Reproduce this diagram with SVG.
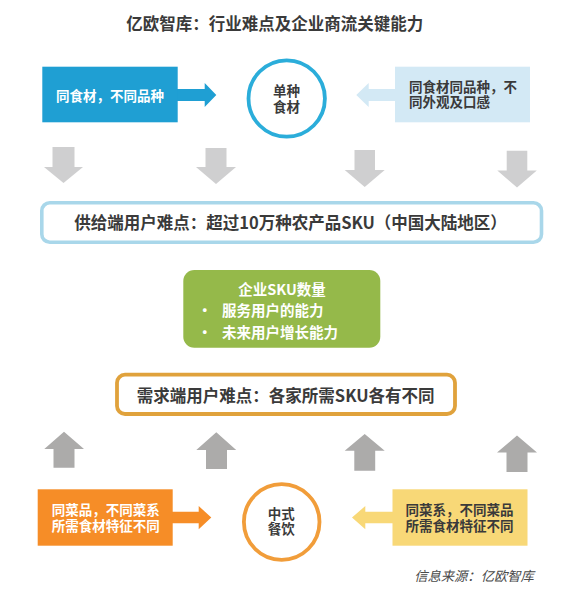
<svg xmlns="http://www.w3.org/2000/svg" width="577" height="596" viewBox="0 0 577 596">
<style>
text{font-family:"Noto Sans CJK SC","Microsoft YaHei",sans-serif;font-weight:bold;}
.dark{fill:#3a3a3a;}
.white{fill:#ffffff;}
.t14{font-size:13.5px;}
.t16{font-size:16.5px;}
.mid{text-anchor:middle;}
.downA{fill:#cfcfd0;}
.upA{fill:#acabaa;}
</style>
<rect x="0" y="0" width="577" height="596" fill="#ffffff"/>

<text class="dark t16 mid" x="274.7" y="29.5" id="title">亿欧智库：行业难点及企业商流关键能力</text>

<g id="connectors">
  <!-- top side arrows -->
  <polygon fill="#1f9fd3" points="177,89 204.7,89 204.7,83 216.3,95 204.7,107 204.7,101 177,101"/>
  <polygon fill="#d3e9f5" points="396,89 368.7,89 368.7,83 356.3,95 368.7,107 368.7,101 396,101"/>
  <!-- down arrows -->
  <polygon class="downA" points="52.5,147 74.5,147 74.5,167 83,167 63.5,183 44,167 52.5,167"/>
  <polygon class="downA" points="205.5,148 226.5,148 226.5,167 236,167 216,184 196,167 205.5,167"/>
  <polygon class="downA" points="354.5,150 375,150 375,170 384.7,170 364.7,187 344.7,170 354.5,170"/>
  <polygon class="downA" points="506.7,150.7 527.3,150.7 527.3,170.5 536.8,170.5 517,187.5 497.3,170.5 506.7,170.5"/>
  <!-- up arrows -->
  <polygon class="upA" points="53.5,467.7 74.5,467.7 74.5,449 84,449 64,431.7 44.3,449 53.5,449"/>
  <polygon class="upA" points="206,469 227,469 227,450 236.2,450 216.3,432.3 196.3,450 206,450"/>
  <polygon class="upA" points="354.3,470.7 375.2,470.7 375.2,450.7 384.7,450.7 364.7,434 344.7,450.7 354.3,450.7"/>
  <polygon class="upA" points="506.5,472 527.5,472 527.5,452.5 537,452.5 517,435.5 497,452.5 506.5,452.5"/>
  <!-- bottom side arrows -->
  <polygon fill="#f68d27" points="172,511.8 198.7,511.8 198.7,506 211.3,517.6 198.7,529.3 198.7,523.2 172,523.2"/>
  <polygon fill="#f8d877" points="393,511.8 365.3,511.8 365.3,506 352,517.6 365.3,529.3 365.3,523.2 393,523.2"/>
</g>

<g id="box-same-ingredient">
  <rect x="42.3" y="66.7" width="135.4" height="55.6" fill="#1f9fd3"/>
  <text class="white t14 mid" x="110" y="100.8">同食材，不同品种</text>
</g>

<g id="circle-single-ingredient">
  <circle cx="286.7" cy="98.5" r="38.2" fill="#ffffff" stroke="#2badda" stroke-width="3.8"/>
  <text class="dark t14 mid" x="286.5" y="95.5">单种</text>
  <text class="dark t14 mid" x="286.5" y="111.8">食材</text>
</g>

<g id="box-same-variety">
  <rect x="395" y="66.7" width="135" height="55.6" fill="#d3e9f5"/>
  <text class="dark t14" x="409" y="92.4">同食材同品种，不</text>
  <text class="dark t14" x="409" y="107.4">同外观及口感</text>
</g>

<g id="supply-box">
  <rect x="41.8" y="202.8" width="499.7" height="39.4" rx="8" ry="8" fill="#ffffff" stroke="#a9d7ea" stroke-width="3.6"/>
  <text class="dark t16 mid" x="290.5" y="229">供给端用户难点：超过10万种农产品SKU（中国大陆地区）</text>
</g>

<g id="enterprise-sku">
  <rect x="183.3" y="270" width="197" height="77.7" rx="11" ry="11" fill="#95b94a"/>
  <text class="white mid" style="font-size:14.5px" x="282" y="295">企业SKU数量</text>
  <text class="white" style="font-size:14.5px" x="197.5" y="315.5">•</text>
  <text class="white" style="font-size:14.5px" x="222" y="315.5">服务用户的能力</text>
  <text class="white" style="font-size:14.5px" x="197.5" y="338">•</text>
  <text class="white" style="font-size:14.5px" x="222" y="338">未来用户增长能力</text>
</g>

<g id="demand-box">
  <rect x="117" y="374.7" width="338" height="39.3" rx="8" ry="8" fill="#ffffff" stroke="#e0a23c" stroke-width="3.8"/>
  <text class="dark t16 mid" x="285.7" y="401.8">需求端用户难点：各家所需SKU各有不同</text>
</g>

<g id="box-same-dish">
  <rect x="37.7" y="489.3" width="135" height="56.4" fill="#f68d27"/>
  <text class="white t14" x="51.7" y="514.8">同菜品，不同菜系</text>
  <text class="white t14" x="51.7" y="531">所需食材特征不同</text>
</g>

<g id="circle-chinese-food">
  <circle cx="281.7" cy="522" r="37.8" fill="#ffffff" stroke="#f19d3a" stroke-width="3.8"/>
  <text class="dark t14 mid" x="281.3" y="519">中式</text>
  <text class="dark t14 mid" x="281.3" y="534.2">餐饮</text>
</g>

<g id="box-same-cuisine">
  <rect x="392.5" y="489.3" width="135" height="56.4" fill="#f8d877"/>
  <text class="dark t14" x="405.5" y="514.8">同菜系，不同菜品</text>
  <text class="dark t14" x="405.5" y="531">所需食材特征不同</text>
</g>

<text x="474" y="581" text-anchor="middle" style="font-size:13.3px;font-weight:normal;font-style:italic;fill:#4a4a4a">信息来源：亿欧智库</text>
</svg>
